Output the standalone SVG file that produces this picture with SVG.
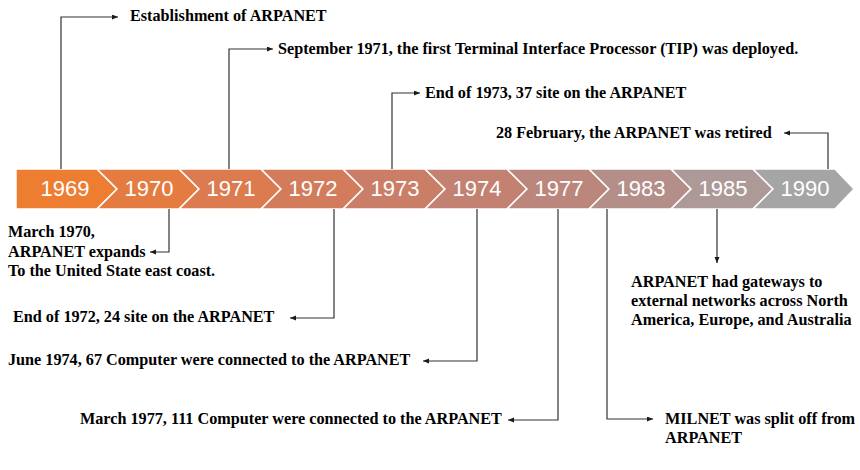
<svg xmlns="http://www.w3.org/2000/svg" width="860" height="470" viewBox="0 0 860 470">
<defs>
<marker id="arr" markerUnits="userSpaceOnUse" markerWidth="7" markerHeight="6" refX="6" refY="2.5" orient="auto">
<path d="M0,0 L6,2.5 L0,5 z" fill="#1a1a1a"/>
</marker>
<style>
.seg{stroke:#ffffff;stroke-width:1.5}
.yr{font-family:"Liberation Sans",Arial,sans-serif;font-size:22px;fill:#ffffff;text-anchor:middle}
.lbl{font-family:"Liberation Serif","Times New Roman",serif;font-size:16.2px;font-weight:bold;fill:#000000}
.con{fill:none;stroke:#333333;stroke-width:1.2;marker-end:url(#arr)}
</style>
</defs>
<rect width="860" height="470" fill="#ffffff"/>
<g id="timeline">
<g id="y1969"><polygon class="seg" fill="#ED7D31" points="16,169 97,169 117,189 97,209 16,209"/><text class="yr" x="65" y="196">1969</text></g>
<g id="y1970"><polygon class="seg" fill="#E47C41" points="97,169 179,169 199,189 179,209 97,209 117,189"/><text class="yr" x="149" y="196">1970</text></g>
<g id="y1971"><polygon class="seg" fill="#DB7B4F" points="179,169 261,169 281,189 261,209 179,209 199,189"/><text class="yr" x="231" y="196">1971</text></g>
<g id="y1972"><polygon class="seg" fill="#D37C5C" points="261,169 343,169 363,189 343,209 261,209 281,189"/><text class="yr" x="313" y="196">1972</text></g>
<g id="y1973"><polygon class="seg" fill="#CA7E68" points="343,169 425,169 445,189 425,209 343,209 363,189"/><text class="yr" x="395" y="196">1973</text></g>
<g id="y1974"><polygon class="seg" fill="#C38172" points="425,169 507,169 527,189 507,209 425,209 445,189"/><text class="yr" x="477" y="196">1974</text></g>
<g id="y1977"><polygon class="seg" fill="#BB877C" points="507,169 589,169 609,189 589,209 507,209 527,189"/><text class="yr" x="559" y="196">1977</text></g>
<g id="y1983"><polygon class="seg" fill="#B48F89" points="589,169 671,169 691,189 671,209 589,209 609,189"/><text class="yr" x="641" y="196">1983</text></g>
<g id="y1985"><polygon class="seg" fill="#AD9A98" points="671,169 753,169 773,189 753,209 671,209 691,189"/><text class="yr" x="723" y="196">1985</text></g>
<g id="y1990"><polygon class="seg" fill="#A5A5A5" points="753,169 835,169 854,189 835,209 753,209 773,189"/><text class="yr" x="805" y="196">1990</text></g>
</g>
<g id="connectors">
<path class="con" d="M61,169 V17 H118"/>
<path class="con" d="M229,169 V49 H273"/>
<path class="con" d="M392,169 V93 H420"/>
<path class="con" d="M828,169 V133 H784"/>
<path class="con" d="M169,209 V252 H150"/>
<path class="con" d="M334,209 V318 H290"/>
<path class="con" d="M477,209 V361 H423"/>
<path class="con" d="M558,209 V420 H508"/>
<path class="con" d="M607,209 V419 H653"/>
<path class="con" d="M717,209 V263"/>
</g>
<g id="labels">
<g id="n1969"><text class="lbl" x="130" y="21">Establishment of ARPANET</text></g>
<g id="n1971"><text class="lbl" x="278" y="54">September 1971, the first Terminal Interface Processor (TIP) was deployed.</text></g>
<g id="n1973"><text class="lbl" x="425" y="98">End of 1973, 37 site on the ARPANET</text></g>
<g id="n1990"><text class="lbl" x="496" y="138">28 February, the ARPANET was retired</text></g>
<g id="n1970"><text class="lbl" x="8" y="237">March 1970,</text><text class="lbl" x="8" y="257">ARPANET expands</text><text class="lbl" x="8" y="276">To the United State east coast.</text></g>
<g id="n1972"><text class="lbl" x="13" y="322">End of 1972, 24 site on the ARPANET</text></g>
<g id="n1974"><text class="lbl" x="8" y="365">June 1974, 67 Computer were connected to the ARPANET</text></g>
<g id="n1977"><text class="lbl" x="80" y="424">March 1977, 111 Computer were connected to the ARPANET</text></g>
<g id="n1985"><text class="lbl" x="631" y="287">ARPANET had gateways to</text><text class="lbl" x="631" y="306">external networks across North</text><text class="lbl" x="631" y="325">America, Europe, and Australia</text></g>
<g id="n1983"><text class="lbl" x="665" y="424">MILNET was split off from</text><text class="lbl" x="665" y="443">ARPANET</text></g>
</g>
</svg>
